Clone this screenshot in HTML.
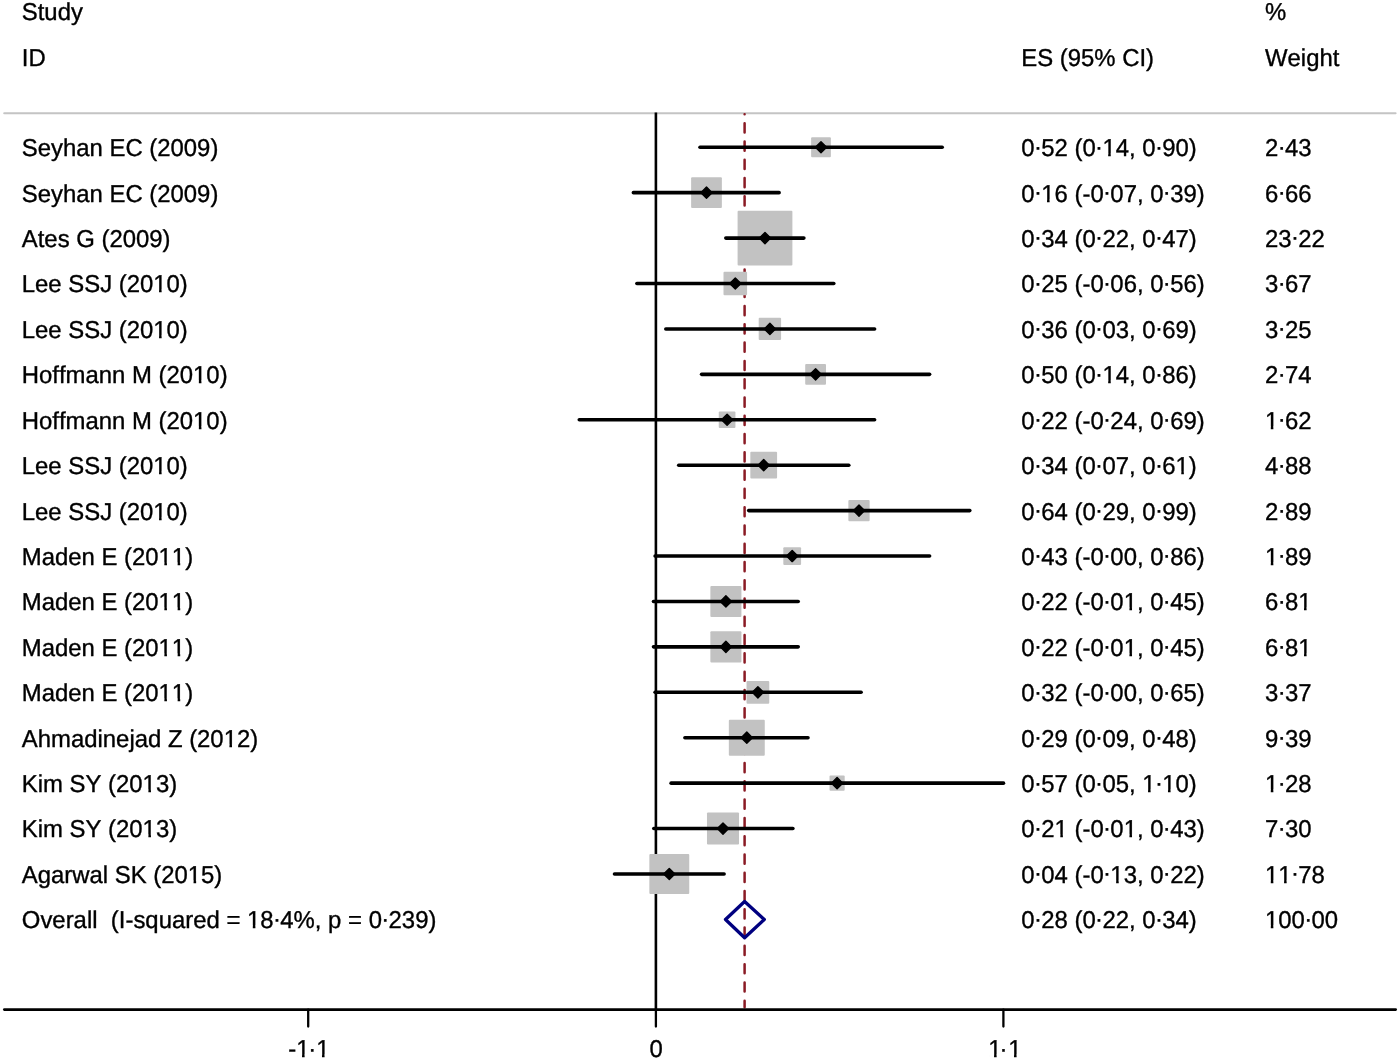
<!DOCTYPE html><html><head><meta charset="utf-8"><title>Forest plot</title><style>html,body{margin:0;padding:0;background:#fff;}svg{display:block}text{font-family:"Liberation Sans",Arial,sans-serif;font-size:23.9px;fill:#000;stroke:#000;stroke-width:0.35px;white-space:pre;text-rendering:geometricPrecision;font-kerning:none}</style></head><body>
<div id="w"><svg width="1400" height="1061" viewBox="0 0 1400 1061">
<rect width="1400" height="1061" fill="#fff"/>
<text transform="translate(21.80 20.20) scale(1 1.02)">Study</text>
<text transform="translate(21.80 65.60) scale(1 1.02)">ID</text>
<text transform="translate(1021.30 65.60) scale(1 1.02)">ES (95% CI)</text>
<text transform="translate(1265.00 20.20) scale(1 1.02)">%</text>
<text transform="translate(1265.00 65.60) scale(1 1.02)">Weight</text>
<line x1="4.2" y1="113.3" x2="1395.6" y2="113.3" stroke="#c4c4c4" stroke-width="2" stroke-linecap="round"/>
<line x1="655.9" y1="112.5" x2="655.9" y2="1009.6" stroke="#000" stroke-width="2.6"/>
<path d="M744.60 114.31V114.31M744.60 123.25V132.45M744.60 141.53V150.73M744.60 159.81V169.01M744.60 178.09V187.29M744.60 196.37V205.57M744.60 214.65V223.85M744.60 232.93V242.13M744.60 251.21V260.41M744.60 269.49V278.69M744.60 287.77V296.97M744.60 306.05V315.25M744.60 324.33V333.53M744.60 342.61V351.81M744.60 360.89V370.09M744.60 379.17V388.37M744.60 397.45V406.65M744.60 415.73V424.93M744.60 434.01V443.21M744.60 452.29V461.49M744.60 470.57V479.77M744.60 488.85V498.05M744.60 507.13V516.33M744.60 525.41V534.61M744.60 543.69V552.89M744.60 561.97V571.17M744.60 580.25V589.45M744.60 598.53V607.73M744.60 616.81V626.01M744.60 635.09V644.29M744.60 653.37V662.57M744.60 671.65V680.85M744.60 689.93V699.13M744.60 708.21V717.41M744.60 726.49V735.69M744.60 744.77V753.97M744.60 763.05V772.25M744.60 781.33V790.53M744.60 799.61V808.81M744.60 817.89V827.09M744.60 836.17V845.37M744.60 854.45V863.65M744.60 872.73V881.93M744.60 891.01V900.21M744.60 909.29V918.49M744.60 927.57V936.77M744.60 945.85V955.05M744.60 964.13V973.33M744.60 982.41V991.61M744.60 1000.69V1007.25" stroke="#8a1a24" stroke-width="2.5" stroke-linecap="round" fill="none"/>
<rect x="811.12" y="137.37" width="19.76" height="19.76" rx="1" fill="#c2c2c2"/>
<rect x="691.13" y="177.30" width="30.74" height="30.74" rx="1" fill="#c2c2c2"/>
<rect x="737.60" y="210.69" width="54.80" height="54.80" rx="1" fill="#c2c2c2"/>
<rect x="723.50" y="271.71" width="23.59" height="23.59" rx="1" fill="#c2c2c2"/>
<rect x="758.71" y="317.74" width="22.38" height="22.38" rx="1" fill="#c2c2c2"/>
<rect x="805.20" y="363.95" width="20.79" height="20.79" rx="1" fill="#c2c2c2"/>
<rect x="718.76" y="411.43" width="16.68" height="16.68" rx="1" fill="#c2c2c2"/>
<rect x="750.33" y="451.82" width="26.75" height="26.75" rx="1" fill="#c2c2c2"/>
<rect x="848.36" y="499.97" width="21.27" height="21.27" rx="1" fill="#c2c2c2"/>
<rect x="783.31" y="547.14" width="17.78" height="17.78" rx="1" fill="#c2c2c2"/>
<rect x="710.37" y="585.92" width="31.05" height="31.05" rx="1" fill="#c2c2c2"/>
<rect x="710.37" y="631.34" width="31.05" height="31.05" rx="1" fill="#c2c2c2"/>
<rect x="746.53" y="680.92" width="22.73" height="22.73" rx="1" fill="#c2c2c2"/>
<rect x="728.83" y="719.74" width="35.94" height="35.94" rx="1" fill="#c2c2c2"/>
<rect x="829.52" y="775.55" width="15.16" height="15.16" rx="1" fill="#c2c2c2"/>
<rect x="706.98" y="812.53" width="32.04" height="32.04" rx="1" fill="#c2c2c2"/>
<rect x="649.35" y="854.02" width="39.90" height="39.90" rx="1" fill="#c2c2c2"/>
<line x1="700.00" y1="147.25" x2="942.20" y2="147.25" stroke="#000" stroke-width="3.6" stroke-linecap="round"/>
<line x1="633.40" y1="192.67" x2="779.10" y2="192.67" stroke="#000" stroke-width="3.6" stroke-linecap="round"/>
<line x1="725.80" y1="238.09" x2="803.90" y2="238.09" stroke="#000" stroke-width="3.6" stroke-linecap="round"/>
<line x1="636.90" y1="283.51" x2="833.80" y2="283.51" stroke="#000" stroke-width="3.6" stroke-linecap="round"/>
<line x1="665.80" y1="328.93" x2="874.60" y2="328.93" stroke="#000" stroke-width="3.6" stroke-linecap="round"/>
<line x1="701.60" y1="374.35" x2="929.60" y2="374.35" stroke="#000" stroke-width="3.6" stroke-linecap="round"/>
<line x1="579.30" y1="419.77" x2="874.60" y2="419.77" stroke="#000" stroke-width="3.6" stroke-linecap="round"/>
<line x1="678.70" y1="465.19" x2="848.80" y2="465.19" stroke="#000" stroke-width="3.6" stroke-linecap="round"/>
<line x1="748.70" y1="510.61" x2="969.80" y2="510.61" stroke="#000" stroke-width="3.6" stroke-linecap="round"/>
<line x1="655.10" y1="556.03" x2="929.60" y2="556.03" stroke="#000" stroke-width="3.6" stroke-linecap="round"/>
<line x1="653.50" y1="601.45" x2="798.20" y2="601.45" stroke="#000" stroke-width="3.6" stroke-linecap="round"/>
<line x1="653.50" y1="646.87" x2="798.20" y2="646.87" stroke="#000" stroke-width="3.6" stroke-linecap="round"/>
<line x1="655.10" y1="692.29" x2="861.10" y2="692.29" stroke="#000" stroke-width="3.6" stroke-linecap="round"/>
<line x1="684.90" y1="737.71" x2="808.00" y2="737.71" stroke="#000" stroke-width="3.6" stroke-linecap="round"/>
<line x1="671.10" y1="783.13" x2="1003.50" y2="783.13" stroke="#000" stroke-width="3.6" stroke-linecap="round"/>
<line x1="653.80" y1="828.55" x2="792.90" y2="828.55" stroke="#000" stroke-width="3.6" stroke-linecap="round"/>
<line x1="614.50" y1="873.97" x2="724.10" y2="873.97" stroke="#000" stroke-width="3.6" stroke-linecap="round"/>
<path d="M821.00 141.65L826.60 147.25L821.00 152.85L815.40 147.25Z" fill="#000" stroke="#000" stroke-width="1.4" stroke-linejoin="round"/>
<path d="M706.50 187.07L712.10 192.67L706.50 198.27L700.90 192.67Z" fill="#000" stroke="#000" stroke-width="1.4" stroke-linejoin="round"/>
<path d="M765.00 232.49L770.60 238.09L765.00 243.69L759.40 238.09Z" fill="#000" stroke="#000" stroke-width="1.4" stroke-linejoin="round"/>
<path d="M735.30 277.91L740.90 283.51L735.30 289.11L729.70 283.51Z" fill="#000" stroke="#000" stroke-width="1.4" stroke-linejoin="round"/>
<path d="M769.90 323.33L775.50 328.93L769.90 334.53L764.30 328.93Z" fill="#000" stroke="#000" stroke-width="1.4" stroke-linejoin="round"/>
<path d="M815.60 368.75L821.20 374.35L815.60 379.95L810.00 374.35Z" fill="#000" stroke="#000" stroke-width="1.4" stroke-linejoin="round"/>
<path d="M727.10 414.17L732.70 419.77L727.10 425.37L721.50 419.77Z" fill="#000" stroke="#000" stroke-width="1.4" stroke-linejoin="round"/>
<path d="M763.70 459.59L769.30 465.19L763.70 470.79L758.10 465.19Z" fill="#000" stroke="#000" stroke-width="1.4" stroke-linejoin="round"/>
<path d="M859.00 505.01L864.60 510.61L859.00 516.21L853.40 510.61Z" fill="#000" stroke="#000" stroke-width="1.4" stroke-linejoin="round"/>
<path d="M792.20 550.43L797.80 556.03L792.20 561.63L786.60 556.03Z" fill="#000" stroke="#000" stroke-width="1.4" stroke-linejoin="round"/>
<path d="M725.90 595.85L731.50 601.45L725.90 607.05L720.30 601.45Z" fill="#000" stroke="#000" stroke-width="1.4" stroke-linejoin="round"/>
<path d="M725.90 641.27L731.50 646.87L725.90 652.47L720.30 646.87Z" fill="#000" stroke="#000" stroke-width="1.4" stroke-linejoin="round"/>
<path d="M757.90 686.69L763.50 692.29L757.90 697.89L752.30 692.29Z" fill="#000" stroke="#000" stroke-width="1.4" stroke-linejoin="round"/>
<path d="M746.80 732.11L752.40 737.71L746.80 743.31L741.20 737.71Z" fill="#000" stroke="#000" stroke-width="1.4" stroke-linejoin="round"/>
<path d="M837.10 777.53L842.70 783.13L837.10 788.73L831.50 783.13Z" fill="#000" stroke="#000" stroke-width="1.4" stroke-linejoin="round"/>
<path d="M723.00 822.95L728.60 828.55L723.00 834.15L717.40 828.55Z" fill="#000" stroke="#000" stroke-width="1.4" stroke-linejoin="round"/>
<path d="M669.30 868.37L674.90 873.97L669.30 879.57L663.70 873.97Z" fill="#000" stroke="#000" stroke-width="1.4" stroke-linejoin="round"/>
<text transform="translate(21.80 156.15) scale(1 1.02)">Seyhan EC (2009)</text>
<text transform="translate(1021.30 156.15) scale(1 1.02)" dx="0 -0.66 -0.66 0 0 0 0 -0.66 -0.66 0 0 0 0 -0.66 -0.66" dy="0 -1.5 1.5 0 0 0 0 -1.5 1.5 0 0 0 0 -1.5 1.5">0·52 (0·14, 0·90)</text>
<text transform="translate(1265.00 156.15) scale(1 1.02)" dx="0 -0.66 -0.66" dy="0 -1.5 1.5">2·43</text>
<text transform="translate(21.80 201.57) scale(1 1.02)">Seyhan EC (2009)</text>
<text transform="translate(1021.30 201.57) scale(1 1.02)" dx="0 -0.66 -0.66 0 0 0 0 0 -0.66 -0.66 0 0 0 0 -0.66 -0.66" dy="0 -1.5 1.5 0 0 0 0 0 -1.5 1.5 0 0 0 0 -1.5 1.5">0·16 (-0·07, 0·39)</text>
<text transform="translate(1265.00 201.57) scale(1 1.02)" dx="0 -0.66 -0.66" dy="0 -1.5 1.5">6·66</text>
<text transform="translate(21.80 246.99) scale(1 1.02)">Ates G (2009)</text>
<text transform="translate(1021.30 246.99) scale(1 1.02)" dx="0 -0.66 -0.66 0 0 0 0 -0.66 -0.66 0 0 0 0 -0.66 -0.66" dy="0 -1.5 1.5 0 0 0 0 -1.5 1.5 0 0 0 0 -1.5 1.5">0·34 (0·22, 0·47)</text>
<text transform="translate(1265.00 246.99) scale(1 1.02)" dx="0 0 -0.66 -0.66" dy="0 0 -1.5 1.5">23·22</text>
<text transform="translate(21.80 292.41) scale(1 1.02)">Lee SSJ (2010)</text>
<text transform="translate(1021.30 292.41) scale(1 1.02)" dx="0 -0.66 -0.66 0 0 0 0 0 -0.66 -0.66 0 0 0 0 -0.66 -0.66" dy="0 -1.5 1.5 0 0 0 0 0 -1.5 1.5 0 0 0 0 -1.5 1.5">0·25 (-0·06, 0·56)</text>
<text transform="translate(1265.00 292.41) scale(1 1.02)" dx="0 -0.66 -0.66" dy="0 -1.5 1.5">3·67</text>
<text transform="translate(21.80 337.83) scale(1 1.02)">Lee SSJ (2010)</text>
<text transform="translate(1021.30 337.83) scale(1 1.02)" dx="0 -0.66 -0.66 0 0 0 0 -0.66 -0.66 0 0 0 0 -0.66 -0.66" dy="0 -1.5 1.5 0 0 0 0 -1.5 1.5 0 0 0 0 -1.5 1.5">0·36 (0·03, 0·69)</text>
<text transform="translate(1265.00 337.83) scale(1 1.02)" dx="0 -0.66 -0.66" dy="0 -1.5 1.5">3·25</text>
<text transform="translate(21.80 383.25) scale(1 1.02)">Hoffmann M (2010)</text>
<text transform="translate(1021.30 383.25) scale(1 1.02)" dx="0 -0.66 -0.66 0 0 0 0 -0.66 -0.66 0 0 0 0 -0.66 -0.66" dy="0 -1.5 1.5 0 0 0 0 -1.5 1.5 0 0 0 0 -1.5 1.5">0·50 (0·14, 0·86)</text>
<text transform="translate(1265.00 383.25) scale(1 1.02)" dx="0 -0.66 -0.66" dy="0 -1.5 1.5">2·74</text>
<text transform="translate(21.80 428.67) scale(1 1.02)">Hoffmann M (2010)</text>
<text transform="translate(1021.30 428.67) scale(1 1.02)" dx="0 -0.66 -0.66 0 0 0 0 0 -0.66 -0.66 0 0 0 0 -0.66 -0.66" dy="0 -1.5 1.5 0 0 0 0 0 -1.5 1.5 0 0 0 0 -1.5 1.5">0·22 (-0·24, 0·69)</text>
<text transform="translate(1265.00 428.67) scale(1 1.02)" dx="0 -0.66 -0.66" dy="0 -1.5 1.5">1·62</text>
<text transform="translate(21.80 474.09) scale(1 1.02)">Lee SSJ (2010)</text>
<text transform="translate(1021.30 474.09) scale(1 1.02)" dx="0 -0.66 -0.66 0 0 0 0 -0.66 -0.66 0 0 0 0 -0.66 -0.66" dy="0 -1.5 1.5 0 0 0 0 -1.5 1.5 0 0 0 0 -1.5 1.5">0·34 (0·07, 0·61)</text>
<text transform="translate(1265.00 474.09) scale(1 1.02)" dx="0 -0.66 -0.66" dy="0 -1.5 1.5">4·88</text>
<text transform="translate(21.80 519.51) scale(1 1.02)">Lee SSJ (2010)</text>
<text transform="translate(1021.30 519.51) scale(1 1.02)" dx="0 -0.66 -0.66 0 0 0 0 -0.66 -0.66 0 0 0 0 -0.66 -0.66" dy="0 -1.5 1.5 0 0 0 0 -1.5 1.5 0 0 0 0 -1.5 1.5">0·64 (0·29, 0·99)</text>
<text transform="translate(1265.00 519.51) scale(1 1.02)" dx="0 -0.66 -0.66" dy="0 -1.5 1.5">2·89</text>
<text transform="translate(21.80 564.93) scale(1 1.02)">Maden E (2011)</text>
<text transform="translate(1021.30 564.93) scale(1 1.02)" dx="0 -0.66 -0.66 0 0 0 0 0 -0.66 -0.66 0 0 0 0 -0.66 -0.66" dy="0 -1.5 1.5 0 0 0 0 0 -1.5 1.5 0 0 0 0 -1.5 1.5">0·43 (-0·00, 0·86)</text>
<text transform="translate(1265.00 564.93) scale(1 1.02)" dx="0 -0.66 -0.66" dy="0 -1.5 1.5">1·89</text>
<text transform="translate(21.80 610.35) scale(1 1.02)">Maden E (2011)</text>
<text transform="translate(1021.30 610.35) scale(1 1.02)" dx="0 -0.66 -0.66 0 0 0 0 0 -0.66 -0.66 0 0 0 0 -0.66 -0.66" dy="0 -1.5 1.5 0 0 0 0 0 -1.5 1.5 0 0 0 0 -1.5 1.5">0·22 (-0·01, 0·45)</text>
<text transform="translate(1265.00 610.35) scale(1 1.02)" dx="0 -0.66 -0.66" dy="0 -1.5 1.5">6·81</text>
<text transform="translate(21.80 655.77) scale(1 1.02)">Maden E (2011)</text>
<text transform="translate(1021.30 655.77) scale(1 1.02)" dx="0 -0.66 -0.66 0 0 0 0 0 -0.66 -0.66 0 0 0 0 -0.66 -0.66" dy="0 -1.5 1.5 0 0 0 0 0 -1.5 1.5 0 0 0 0 -1.5 1.5">0·22 (-0·01, 0·45)</text>
<text transform="translate(1265.00 655.77) scale(1 1.02)" dx="0 -0.66 -0.66" dy="0 -1.5 1.5">6·81</text>
<text transform="translate(21.80 701.19) scale(1 1.02)">Maden E (2011)</text>
<text transform="translate(1021.30 701.19) scale(1 1.02)" dx="0 -0.66 -0.66 0 0 0 0 0 -0.66 -0.66 0 0 0 0 -0.66 -0.66" dy="0 -1.5 1.5 0 0 0 0 0 -1.5 1.5 0 0 0 0 -1.5 1.5">0·32 (-0·00, 0·65)</text>
<text transform="translate(1265.00 701.19) scale(1 1.02)" dx="0 -0.66 -0.66" dy="0 -1.5 1.5">3·37</text>
<text transform="translate(21.80 746.61) scale(1 1.02)">Ahmadinejad Z (2012)</text>
<text transform="translate(1021.30 746.61) scale(1 1.02)" dx="0 -0.66 -0.66 0 0 0 0 -0.66 -0.66 0 0 0 0 -0.66 -0.66" dy="0 -1.5 1.5 0 0 0 0 -1.5 1.5 0 0 0 0 -1.5 1.5">0·29 (0·09, 0·48)</text>
<text transform="translate(1265.00 746.61) scale(1 1.02)" dx="0 -0.66 -0.66" dy="0 -1.5 1.5">9·39</text>
<text transform="translate(21.80 792.03) scale(1 1.02)">Kim SY (2013)</text>
<text transform="translate(1021.30 792.03) scale(1 1.02)" dx="0 -0.66 -0.66 0 0 0 0 -0.66 -0.66 0 0 0 0 -0.66 -0.66" dy="0 -1.5 1.5 0 0 0 0 -1.5 1.5 0 0 0 0 -1.5 1.5">0·57 (0·05, 1·10)</text>
<text transform="translate(1265.00 792.03) scale(1 1.02)" dx="0 -0.66 -0.66" dy="0 -1.5 1.5">1·28</text>
<text transform="translate(21.80 837.45) scale(1 1.02)">Kim SY (2013)</text>
<text transform="translate(1021.30 837.45) scale(1 1.02)" dx="0 -0.66 -0.66 0 0 0 0 0 -0.66 -0.66 0 0 0 0 -0.66 -0.66" dy="0 -1.5 1.5 0 0 0 0 0 -1.5 1.5 0 0 0 0 -1.5 1.5">0·21 (-0·01, 0·43)</text>
<text transform="translate(1265.00 837.45) scale(1 1.02)" dx="0 -0.66 -0.66" dy="0 -1.5 1.5">7·30</text>
<text transform="translate(21.80 882.87) scale(1 1.02)">Agarwal SK (2015)</text>
<text transform="translate(1021.30 882.87) scale(1 1.02)" dx="0 -0.66 -0.66 0 0 0 0 0 -0.66 -0.66 0 0 0 0 -0.66 -0.66" dy="0 -1.5 1.5 0 0 0 0 0 -1.5 1.5 0 0 0 0 -1.5 1.5">0·04 (-0·13, 0·22)</text>
<text transform="translate(1265.00 882.87) scale(1 1.02)" dx="0 0 -0.66 -0.66" dy="0 0 -1.5 1.5">11·78</text>
<path d="M725.5 919.49L744.6 901.49L764.3 919.49L744.6 937.69Z" fill="none" stroke="#000080" stroke-width="3.3" stroke-linejoin="round"/>
<text transform="translate(21.80 928.29) scale(1 1.02)" dx="0 0 0 0 0 0 0 0 0 0 0 0 0 0 0 0 0 0 0 0 0 0 0 0 -0.66 -0.66 0 0 0 0 0 0 0 0 -0.66 -0.66" dy="0 0 0 0 0 0 0 0 0 0 0 0 0 0 0 0 0 0 0 0 0 0 0 0 -1.5 1.5 0 0 0 0 0 0 0 0 -1.5 1.5">Overall  (I-squared = 18·4%, p = 0·239)</text>
<text transform="translate(1021.30 928.29) scale(1 1.02)" dx="0 -0.66 -0.66 0 0 0 0 -0.66 -0.66 0 0 0 0 -0.66 -0.66" dy="0 -1.5 1.5 0 0 0 0 -1.5 1.5 0 0 0 0 -1.5 1.5">0·28 (0·22, 0·34)</text>
<text transform="translate(1265.00 928.29) scale(1 1.02)" dx="0 0 0 -0.66 -0.66" dy="0 0 0 -1.5 1.5">100·00</text>
<line x1="4.3" y1="1009.6" x2="1395.7" y2="1009.6" stroke="#000" stroke-width="2.6" stroke-linecap="round"/>
<line x1="308.2" y1="1009.6" x2="308.2" y2="1026.5" stroke="#000" stroke-width="2.3" stroke-linecap="round"/>
<line x1="655.9" y1="1009.6" x2="655.9" y2="1026.5" stroke="#000" stroke-width="2.3" stroke-linecap="round"/>
<line x1="1003.4" y1="1009.6" x2="1003.4" y2="1026.5" stroke="#000" stroke-width="2.3" stroke-linecap="round"/>
<text transform="translate(308.90 1057.00) scale(1 1.02)" dx="0 0 -1.26 -0.06" dy="0 0 0.3 -0.3" text-anchor="middle">-1·1</text>
<text transform="translate(656.10 1057.00) scale(1 1.02)" text-anchor="middle">0</text>
<text transform="translate(1004.90 1057.00) scale(1 1.02)" dx="0 -2.06 0.74" dy="0 0.3 -0.3" text-anchor="middle">1·1</text>
<path fill="#fff" d="M1103.21 153.43H1108.16V157.00H1103.21ZM1110.76 153.43H1115.52V157.00H1110.76ZM1042.07 199.43H1047.02V203.00H1042.07ZM1049.61 199.43H1054.37V203.00H1049.61ZM154.09 289.43H159.04V293.00H154.09ZM161.63 289.43H166.39V293.00H161.63ZM154.09 335.43H159.04V339.00H154.09ZM161.63 335.43H166.39V339.00H161.63ZM193.90 380.43H198.85V384.00H193.90ZM201.44 380.43H206.21V384.00H201.44ZM1103.21 380.43H1108.16V384.00H1103.21ZM1110.76 380.43H1115.52V384.00H1110.76ZM193.90 426.43H198.85V430.00H193.90ZM201.44 426.43H206.21V430.00H201.44ZM1265.82 426.43H1270.77V430.00H1265.82ZM1273.36 426.43H1278.13V430.00H1273.36ZM154.09 471.43H159.04V475.00H154.09ZM161.63 471.43H166.39V475.00H161.63ZM1176.32 471.43H1181.27V475.00H1176.32ZM1183.86 471.43H1188.62V475.00H1183.86ZM154.09 517.43H159.04V521.00H154.09ZM161.63 517.43H166.39V521.00H161.63ZM159.40 562.43H164.35V566.00H159.40ZM166.94 562.43H171.71V566.00H166.94ZM172.68 562.43H177.63V566.00H172.68ZM180.22 562.43H184.99V566.00H180.22ZM1265.82 562.43H1270.77V566.00H1265.82ZM1273.36 562.43H1278.13V566.00H1273.36ZM159.40 607.43H164.35V611.00H159.40ZM166.94 607.43H171.71V611.00H166.94ZM172.68 607.43H177.63V611.00H172.68ZM180.22 607.43H184.99V611.00H180.22ZM1124.48 607.43H1129.43V611.00H1124.48ZM1132.02 607.43H1136.79V611.00H1132.02ZM1299.05 607.43H1304.00V611.00H1299.05ZM1306.59 607.43H1311.35V611.00H1306.59ZM159.40 653.43H164.35V657.00H159.40ZM166.94 653.43H171.71V657.00H166.94ZM172.68 653.43H177.63V657.00H172.68ZM180.22 653.43H184.99V657.00H180.22ZM1124.48 653.43H1129.43V657.00H1124.48ZM1132.02 653.43H1136.79V657.00H1132.02ZM1299.05 653.43H1304.00V657.00H1299.05ZM1306.59 653.43H1311.35V657.00H1306.59ZM159.40 698.43H164.35V702.00H159.40ZM166.94 698.43H171.71V702.00H166.94ZM172.68 698.43H177.63V702.00H172.68ZM180.22 698.43H184.99V702.00H180.22ZM224.46 744.43H229.41V748.00H224.46ZM232.01 744.43H236.77V748.00H232.01ZM143.43 789.43H148.38V793.00H143.43ZM150.97 789.43H155.74V793.00H150.97ZM1143.09 789.43H1148.04V793.00H1143.09ZM1150.63 789.43H1155.39V793.00H1150.63ZM1163.04 789.43H1167.98V793.00H1163.04ZM1170.58 789.43H1175.34V793.00H1170.58ZM1265.82 789.43H1270.77V793.00H1265.82ZM1273.36 789.43H1278.13V793.00H1273.36ZM143.43 834.43H148.38V838.00H143.43ZM150.97 834.43H155.74V838.00H150.97ZM1055.36 834.43H1060.31V838.00H1055.36ZM1062.90 834.43H1067.67V838.00H1062.90ZM1124.48 834.43H1129.43V838.00H1124.48ZM1132.02 834.43H1136.79V838.00H1132.02ZM188.60 880.43H193.55V884.00H188.60ZM196.15 880.43H200.91V884.00H196.15ZM1111.18 880.43H1116.13V884.00H1111.18ZM1118.73 880.43H1123.49V884.00H1118.73ZM1265.82 880.43H1270.77V884.00H1265.82ZM1273.36 880.43H1278.13V884.00H1273.36ZM1279.12 880.43H1284.07V884.00H1279.12ZM1286.66 880.43H1291.42V884.00H1286.66ZM247.85 925.43H252.80V929.00H247.85ZM255.40 925.43H260.16V929.00H255.40ZM1265.82 925.43H1270.77V929.00H1265.82ZM1273.36 925.43H1278.13V929.00H1273.36ZM297.08 1054.43H302.03V1058.00H297.08ZM304.63 1054.43H309.39V1058.00H304.63ZM317.03 1054.43H321.98V1058.00H317.03ZM324.57 1054.43H329.33V1058.00H324.57ZM989.10 1054.43H994.05V1058.00H989.10ZM996.64 1054.43H1001.40V1058.00H996.64ZM1009.04 1054.43H1013.99V1058.00H1009.04ZM1016.59 1054.43H1021.35V1058.00H1016.59Z"/>
</svg></div></body></html>
